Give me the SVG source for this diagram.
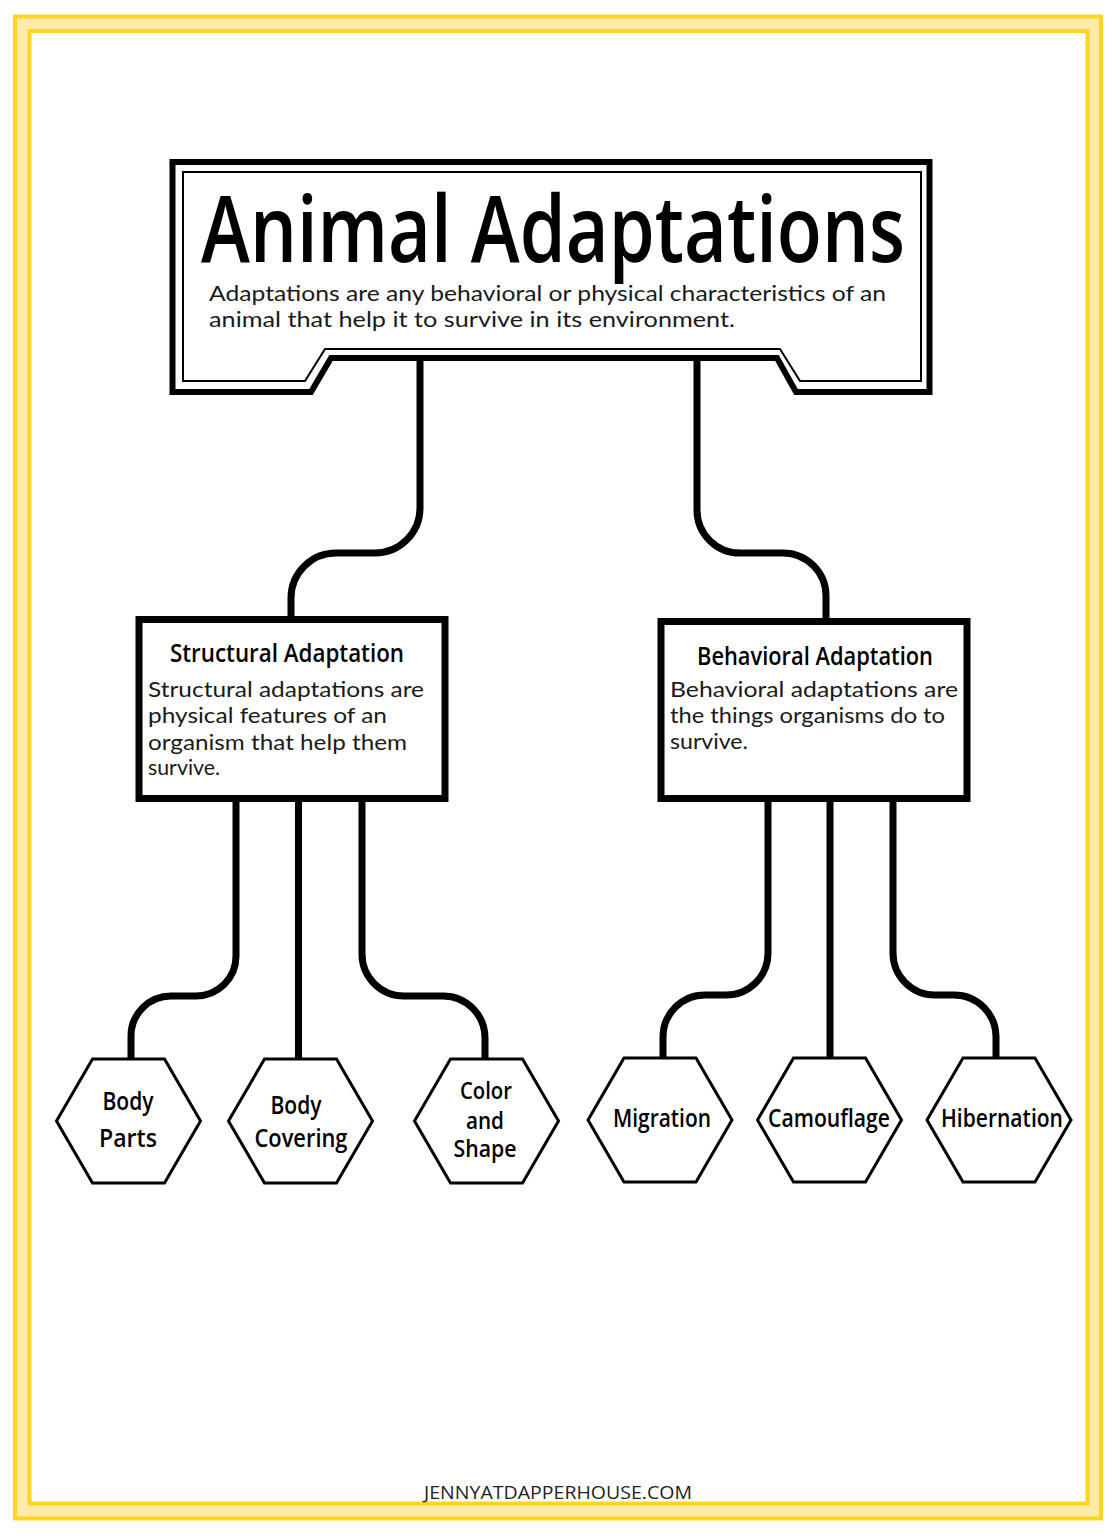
<svg xmlns="http://www.w3.org/2000/svg" width="1117" height="1536" viewBox="0 0 1117 1536">
<style>
.hand{font-family:"Open Sans","Noto Sans","Liberation Sans",sans-serif;font-weight:600;fill:#000}
.body{font-family:"Lato","Open Sans","Liberation Sans",sans-serif;font-weight:400;fill:#1a1a1a}
.box{fill:#fff;stroke:#000;stroke-width:7}
.hex{fill:#fff;stroke:#000;stroke-width:3;stroke-linejoin:miter}
.conn{fill:none;stroke:#000;stroke-width:7}
.hexlbl{font-size:25px;text-anchor:middle}
</style>
<rect width="1117" height="1536" fill="#fff"/>
<g id="border">
<rect x="15" y="16.5" width="1086" height="1502" fill="#FEEBA8" stroke="#FDD520" stroke-width="4"/>
<rect x="29.5" y="31" width="1058" height="1472.5" fill="#fff" stroke="#FDD520" stroke-width="4"/>
</g>
<g id="connectors">
<path class="conn" d="M420 357 V508 A45 45 0 0 1 375 553 H336 A45 45 0 0 0 291 598 V618"/>
<path class="conn" d="M697 357 V510 A43 43 0 0 0 740 553 H783 A43 43 0 0 1 826 596 V620"/>
<path class="conn" d="M236 800 V956 A40 40 0 0 1 196 996 H171 A40 40 0 0 0 131 1036 V1060"/>
<path class="conn" d="M298.5 800 V1060"/>
<path class="conn" d="M362 800 V954 A42 42 0 0 0 404 996 H443 A42 42 0 0 1 485 1038 V1060"/>
<path class="conn" d="M768 800 V953 A42 42 0 0 1 726 995 H705 A42 42 0 0 0 663 1037 V1059"/>
<path class="conn" d="M830 800 V1059"/>
<path class="conn" d="M893 800 V953 A42 42 0 0 0 935 995 H954 A42 42 0 0 1 996 1037 V1059"/>
</g>
<g id="title">
<path d="M172.5 162 H929.5 V392 H796 L777 358 H331 L311 392 H172.5 Z" fill="#fff" stroke="#000" stroke-width="6"/>
<path d="M183 172 H921 V381 H800 L780 349 H325 L305 381 H183 Z" fill="none" stroke="#000" stroke-width="2"/>
<text class="hand" x="201" y="262" font-size="92" font-weight="400" textLength="704" lengthAdjust="spacingAndGlyphs">Animal Adaptations</text>
<text class="body" x="209" y="301" font-size="20.5" textLength="677" lengthAdjust="spacingAndGlyphs">Adaptations are any behavioral or physical characteristics of an</text>
<text class="body" x="209" y="327" font-size="20.5" textLength="526" lengthAdjust="spacingAndGlyphs">animal that help it to survive in its environment.</text>
</g>
<g id="structural">
<rect class="box" x="139" y="619.5" width="306" height="179"/>
<text class="hand" x="170" y="662" font-size="25" textLength="234" lengthAdjust="spacingAndGlyphs">Structural Adaptation</text>
<text class="body" x="148" y="697" font-size="20.5" textLength="276" lengthAdjust="spacingAndGlyphs">Structural adaptations are</text>
<text class="body" x="148" y="723" font-size="20.5" textLength="239" lengthAdjust="spacingAndGlyphs">physical features of an</text>
<text class="body" x="148" y="750" font-size="20.5" textLength="259" lengthAdjust="spacingAndGlyphs">organism that help them</text>
<text class="body" x="148" y="775" font-size="20.5" textLength="72" lengthAdjust="spacingAndGlyphs">survive.</text>
</g>
<g id="behavioral">
<rect class="box" x="661" y="621.5" width="306" height="177"/>
<text class="hand" x="697" y="665" font-size="25" textLength="236" lengthAdjust="spacingAndGlyphs">Behavioral Adaptation</text>
<text class="body" x="670" y="697" font-size="20.5" textLength="288" lengthAdjust="spacingAndGlyphs">Behavioral adaptations are</text>
<text class="body" x="670" y="723" font-size="20.5" textLength="275" lengthAdjust="spacingAndGlyphs">the things organisms do to</text>
<text class="body" x="670" y="749" font-size="20.5" textLength="78" lengthAdjust="spacingAndGlyphs">survive.</text>
</g>
<g id="body-parts">
<polygon class="hex" points="56.5,1121 92.5,1059 164.5,1059 200.5,1121 164.5,1183 92.5,1183"/>
<text class="hand hexlbl" x="128" y="1110" textLength="51" lengthAdjust="spacingAndGlyphs">Body</text>
<text class="hand hexlbl" x="128" y="1147" textLength="58" lengthAdjust="spacingAndGlyphs">Parts</text>
</g>
<g id="body-covering">
<polygon class="hex" points="228.5,1121 264.5,1059 336.5,1059 372.5,1121 336.5,1183 264.5,1183"/>
<text class="hand hexlbl" x="296" y="1114" textLength="51" lengthAdjust="spacingAndGlyphs">Body</text>
<text class="hand hexlbl" x="301" y="1147" textLength="93" lengthAdjust="spacingAndGlyphs">Covering</text>
</g>
<g id="color-and-shape">
<polygon class="hex" points="414.5,1121 450.5,1059 522.5,1059 558.5,1121 522.5,1183 450.5,1183"/>
<text class="hand" x="486" y="1099" font-size="23" text-anchor="middle" textLength="52" lengthAdjust="spacingAndGlyphs">Color</text>
<text class="hand" x="485" y="1129" font-size="23" text-anchor="middle" textLength="38" lengthAdjust="spacingAndGlyphs">and</text>
<text class="hand" x="485" y="1157" font-size="23" text-anchor="middle" textLength="63" lengthAdjust="spacingAndGlyphs">Shape</text>
</g>
<g id="migration">
<polygon class="hex" points="588,1120 624,1058 696,1058 732,1120 696,1182 624,1182"/>
<text class="hand hexlbl" x="662" y="1127" textLength="98" lengthAdjust="spacingAndGlyphs">Migration</text>
</g>
<g id="camouflage">
<polygon class="hex" points="757.5,1120 793.5,1058 865.5,1058 901.5,1120 865.5,1182 793.5,1182"/>
<text class="hand hexlbl" x="829" y="1127" textLength="122" lengthAdjust="spacingAndGlyphs">Camouflage</text>
</g>
<g id="hibernation">
<polygon class="hex" points="927,1120 963,1058 1035,1058 1071,1120 1035,1182 963,1182"/>
<text class="hand hexlbl" x="1002" y="1127" textLength="122" lengthAdjust="spacingAndGlyphs">Hibernation</text>
</g>
<g id="footer">
<text x="424" y="1499" font-family="Open Sans, Liberation Sans, sans-serif" font-size="19" fill="#231f20" textLength="268" lengthAdjust="spacingAndGlyphs">JENNYATDAPPERHOUSE.COM</text>
</g>
</svg>
